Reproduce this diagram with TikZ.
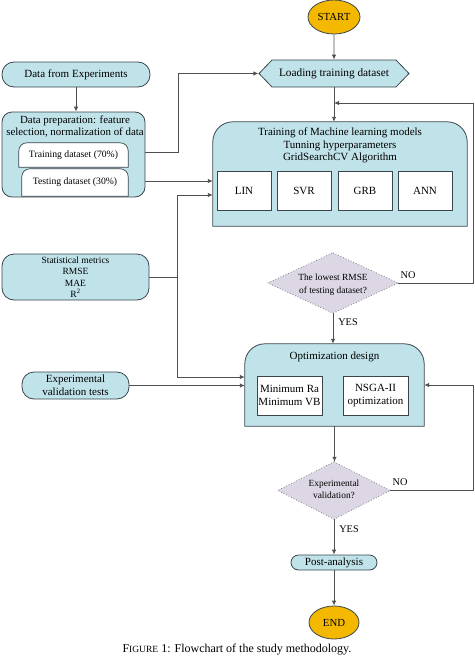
\documentclass[tikz,border=0pt]{standalone}
\usepackage{fontspec}
\setmainfont{Liberation Serif}
\usetikzlibrary{shapes.symbols,shapes.geometric,arrows.meta}
\definecolor{boxblue}{RGB}{192,226,233}
\definecolor{edgegray}{RGB}{58,70,76}
\definecolor{termyellow}{RGB}{245,184,0}
\definecolor{decfill}{RGB}{221,215,229}
\definecolor{linegray}{RGB}{80,80,80}
\definecolor{dotgray}{RGB}{130,130,140}
\newcommand\toprnd[3]{\draw[#3] (#1.south west) -- ([yshift=-#2]#1.north west) arc[start angle=180,end angle=90,radius=#2] -- ([xshift=-#2]#1.north east) arc[start angle=90,end angle=0,radius=#2] -- (#1.south east) -- cycle;}
\newcommand\diamfill[2]{\draw[#2] (#1.north) -- (#1.east) -- (#1.south) -- (#1.west) -- cycle;}
\begin{document}
\begin{tikzpicture}[x=1pt,y=-1pt,
  txt/.style={align=center, inner sep=0pt, font=\fontsize{11}{12.5}\selectfont},
  blu/.style={draw=edgegray, fill=boxblue, line width=0.8pt, rounded corners=12pt, align=center, inner sep=0pt, font=\fontsize{11}{13}\selectfont},
  blushape/.style={draw=edgegray, fill=boxblue, line width=0.8pt},
  wshape/.style={draw=edgegray, fill=white, line width=0.7pt},
  wbox/.style={draw=edgegray, fill=white, line width=0.7pt, inner sep=0pt, align=center, font=\fontsize{11}{12.5}\selectfont},
  anc/.style={shape=rectangle, inner sep=0pt},
  term/.style={ellipse, draw=edgegray, fill=termyellow, line width=0.8pt, inner sep=0pt, font=\fontsize{10.8}{12}\selectfont},
  decshape/.style={draw=dotgray, fill=decfill, line width=0.8pt, dotted},
  lab/.style={inner sep=0pt, font=\fontsize{10.3}{12}\selectfont},
  arr/.style={draw=linegray, line width=0.9pt, -{Latex[length=5pt,width=4.5pt]}},
  ln/.style={draw=linegray, line width=0.9pt}]
\useasboundingbox (0,0) rectangle (474,656);
\clip (0,0) rectangle (474,656);

% terminals and hexagon
\node[term, minimum width=52, minimum height=34] (start) at (334,17) {START};
\node[shape=signal, signal to=west and east, signal pointer angle=92, draw=edgegray, fill=boxblue, line width=0.8pt, minimum width=150, minimum height=27, inner sep=0pt, font=\fontsize{11.3}{13}\selectfont] (load) at (334,73.5) {Loading training dataset};

% training box
\node[anc, minimum width=254, minimum height=104] (train) at (340,174) {};
\toprnd{train}{20pt}{blushape}
\node[txt] (traint) at (340,145.5) {Training of Machine learning models\\Tunning hyperparameters\\GridSearchCV Algorithm};
\node[wbox, minimum width=54, minimum height=39] (lin) at (244,190.5) {LIN};
\node[wbox, minimum width=54, minimum height=39] (svr) at (304,190.5) {SVR};
\node[wbox, minimum width=54, minimum height=39] (grb) at (365,190.5) {GRB};
\node[wbox, minimum width=54, minimum height=39] (ann) at (425,190.5) {ANN};

% decision 1
\node[anc, minimum width=130, minimum height=60] (d1) at (333,283) {};
\diamfill{d1}{decshape}
\node[txt, font=\fontsize{9.4}{12.5}\selectfont] (d1t) at (333,284.5) {The lowest RMSE\\of testing dataset?};
\node[lab] (no1) at (408,275) {NO};
\node[lab] (yes1) at (348,322) {YES};

% optimization box
\node[anc, minimum width=179, minimum height=82] (opt) at (334.5,385) {};
\toprnd{opt}{20pt}{blushape}
\node[txt] (optt) at (334.5,357) {Optimization design};
\node[wbox, minimum width=65, minimum height=39] (minra) at (289.5,395.5) {Minimum Ra\\Minimum VB};
\node[wbox, minimum width=65, minimum height=39] (nsga) at (375.5,395.5) {NSGA-II\\optimization};

% decision 2
\node[anc, minimum width=112, minimum height=57] (d2) at (334,490.5) {};
\diamfill{d2}{decshape}
\node[txt, font=\fontsize{9.4}{12}\selectfont] (d2t) at (334,489) {Experimental\\validation?};
\node[lab] (no2) at (400,482) {NO};
\node[lab] (yes2) at (349,529) {YES};

\node[blu, rounded corners=7.5pt, minimum width=86, minimum height=15] (post) at (334,562.5) {Post-analysis};
\node[term, minimum width=50, minimum height=33] (endn) at (334,622.5) {END};

% left column
\node[blu, minimum width=148, minimum height=25] (dfe) at (76,74.5) {Data from Experiments};
\node[blu, rounded corners=10pt, minimum width=143, minimum height=85] (prep) at (73.5,154.5) {};
\node[txt, font=\fontsize{10.9}{12}\selectfont] (prept) at (75,126) {Data preparation: feature\\selection, normalization of data};
\node[anc, minimum width=109, minimum height=24] (trd) at (73.5,155) {};
\toprnd{trd}{8pt}{wshape}
\node[txt, font=\fontsize{9.7}{11}\selectfont] (trdt) at (73.5,155) {Training dataset (70\%)};
\node[anc, minimum width=106, minimum height=27] (tsd) at (75,182.5) {};
\toprnd{tsd}{8pt}{wshape}
\node[txt, font=\fontsize{9.7}{11}\selectfont] (tsdt) at (75,182) {Testing dataset (30\%)};
\node[blu, minimum width=147, minimum height=46, font=\fontsize{9.5}{11.5}\selectfont] (met) at (75.5,277) {Statistical metrics\\RMSE\\MAE\\R\textsuperscript{2}};
\node[blu, minimum width=107, minimum height=27, font=\fontsize{11}{13}\selectfont] (exv) at (75.5,385.5) {Experimental\\validation tests};

% connectors
\draw[arr] (start) -- (load);
\draw[arr] (load.south) -- (load.south |- train.north);
\coordinate (fbin) at (334,103);
\coordinate (noR1) at (473,283);
\draw[arr] (d1.east) -- (noR1) |- (fbin);
\draw[arr] (d1.south) -- (d1.south |- opt.north);
\draw[arr] (opt.south) -- (opt.south |- d2.north);
\coordinate (noR2) at (473,490.5);
\draw[arr] (d2.east) -- (noR2) |- (opt.east);
\draw[arr] (d2.south) -- (post.north);
\draw[arr] (post.south) -- (endn.north);

\draw[arr] (dfe.south) -- (dfe.south |- prep.north);
\coordinate (j1) at (178,152);
\draw[arr] (prep.east |- j1) -- (j1) |- (load.west);
\coordinate (j2) at (178,181);
\draw[arr] (prep.east |- j2) -- (train.west |- j2);
\coordinate (mv) at (177,277);
\coordinate (mt) at (177,195);
\coordinate (mb) at (177,377);
\draw[ln] (met.east) -- (mv);
\draw[arr] (mv) -- (mt) -- (train.west |- mt);
\draw[arr] (mv) -- (mb) -- (opt.west |- mb);
\draw[arr] (exv.east) -- (opt.west |- exv.east);

\node[anchor=base, inner sep=0pt, font=\fontsize{12}{14}\selectfont] (cap) at (237,652) {F{\fontsize{9.5}{11}\selectfont IGURE} 1: Flowchart of the study methodology.};
\end{tikzpicture}
\end{document}
